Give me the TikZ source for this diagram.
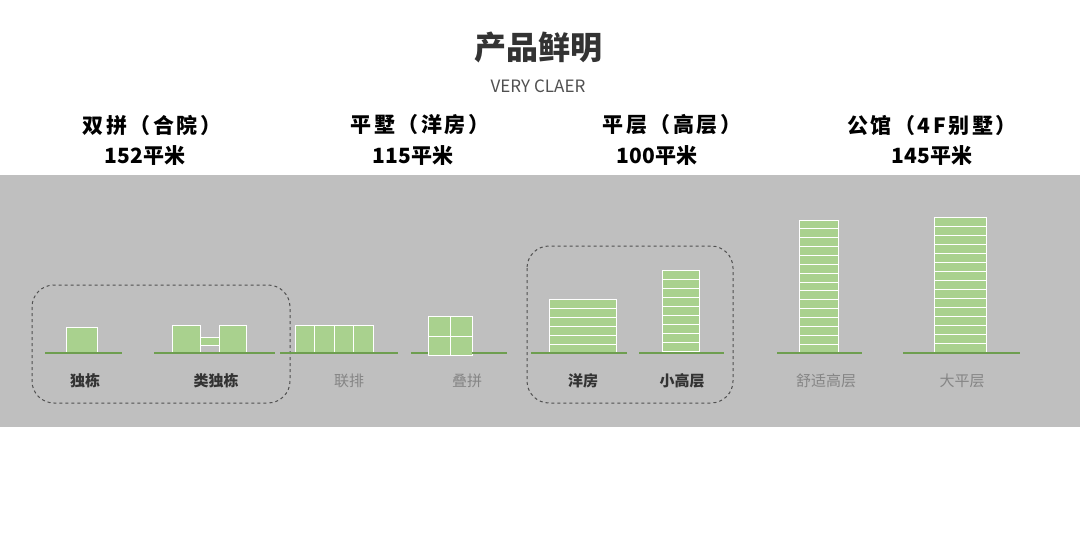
\documentclass[tikz,border=0pt]{standalone}
\usepackage{fontspec}
\setmainfont{Noto Sans CJK SC}
\begin{document}
\begin{tikzpicture}[x=1pt,y=-1pt,
  bld/.style={fill=bgreen,draw=white,line width=1pt},
  gnd/.style={draw=lgreen,line width=1.5pt},
  grp/.style={draw=dgray,dashed,line width=1pt,rounded corners=22pt},
  head/.style={font=\fontsize{21}{24}\selectfont\bfseries,text=black},
  headsp/.style={font=\fontsize{21}{24}\selectfont\bfseries\addfontfeature{LetterSpace=12},text=black},
  lab/.style={font=\fontsize{15}{18}\selectfont\bfseries,text=dlab},
  labg/.style={font=\fontsize{15}{18}\selectfont,text=glab}]
\definecolor{band}{HTML}{BFBFBF}
\definecolor{bgreen}{HTML}{A9D18E}
\definecolor{lgreen}{HTML}{6E9E50}
\definecolor{dgray}{HTML}{505050}
\definecolor{dlab}{HTML}{333333}
\definecolor{glab}{HTML}{858585}
\useasboundingbox (0,0) rectangle (1080,543);
\fill[white] (0,0) rectangle (1080,543);
\fill[band] (0,175) rectangle (1080,427);
\node[font=\fontsize{32}{34}\selectfont\bfseries,text=dlab] (title) at (538,47) {产品鲜明};
\node[font=\fontsize{17}{20}\selectfont,text=dgray] (sub) at (538,86) {VERY CLAER};
\node[headsp] (h1) at (152,125) {双拼（合院）};
\node[head] (n1) at (145,156) {152平米};
\node[headsp] (h2) at (420,125) {平墅（洋房）};
\node[head] (n2) at (413,156) {115平米};
\node[headsp] (h3) at (672,125) {平层（高层）};
\node[head] (n3) at (657,156) {100平米};
\node[headsp] (h4) at (932,125) {公馆（4F别墅）};
\node[head] (n4) at (932,156) {145平米};
% groups
\draw[grp] (32,285) rectangle (290,403);
\draw[grp] (527,246) rectangle (733,403);
% 独栋
\draw[bld] (66,327) rectangle (97,353);
\draw[gnd] (45,353) -- (122,353);
% 类独栋
\draw[bld] (172,325) rectangle (200,353);
\draw[bld] (219,325) rectangle (246,353);
\draw[bld] (200,337) rectangle (219,345);
\draw[gnd] (154,353) -- (275,353);
% 联排
\foreach \i in {0,1,2,3} \draw[bld] (295+19.5*\i,325) rectangle (314.5+19.5*\i,353);
\draw[gnd] (280,353) -- (398,353);
% 叠拼
\draw[bld] (428,316) rectangle (450,336);
\draw[bld] (450,316) rectangle (472,336);
\draw[bld] (428,336) rectangle (450,355);
\draw[bld] (450,336) rectangle (472,355);
\draw[gnd] (411,353) -- (428,353) (472,353) -- (507,353);
% 洋房
\foreach \i in {0,...,5} \draw[bld] (549,299+9*\i) rectangle (616,308+9*\i);
\draw[gnd] (531,353) -- (627,353);
% 小高层
\foreach \i in {0,...,8} \draw[bld] (662,270+9.11*\i) rectangle (699,279.11+9.11*\i);
\draw[gnd] (639,353) -- (724,353);
% 舒适高层
\foreach \i in {0,...,14} \draw[bld] (799,220+8.87*\i) rectangle (838,228.87+8.87*\i);
\draw[gnd] (777,353) -- (862,353);
% 大平层
\foreach \i in {0,...,14} \draw[bld] (934,217+9.07*\i) rectangle (986,226.07+9.07*\i);
\draw[gnd] (903,353) -- (1020,353);
% labels
\node[lab] (l1) at (85,381) {独栋};
\node[lab] (l2) at (216,381) {类独栋};
\node[labg] (l3) at (349,381) {联排};
\node[labg] (l4) at (467,381) {叠拼};
\node[lab] (l5) at (583,381) {洋房};
\node[lab] (l6) at (682,381) {小高层};
\node[labg] (l7) at (826,381) {舒适高层};
\node[labg] (l8) at (962,381) {大平层};
\end{tikzpicture}
\end{document}
